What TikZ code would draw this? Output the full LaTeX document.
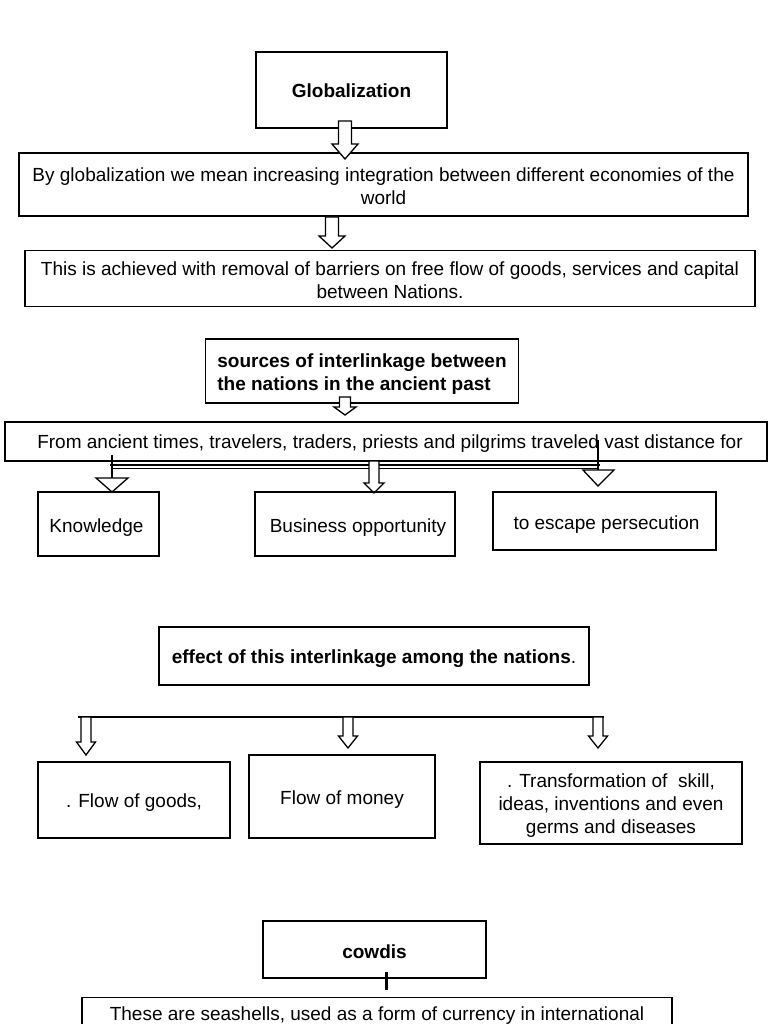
\documentclass[tikz,border=0pt]{standalone}
\usepackage{fontspec}
\setmainfont{Liberation Sans}
\newcommand\lowr[2][3]{\raisebox{0pt}[\dimexpr\height+#1pt*2\relax][\depth]{#2}}
\newcommand\lines[2][c]{\begin{tabular}{@{}#1@{}}#2\end{tabular}}
\begin{document}
\begin{tikzpicture}[x=1pt,y=-1pt,
  box/.style={draw,line width=1.3pt,inner sep=0pt,align=center,font=\fontsize{19}{23.2}\selectfont},
  boldbox/.style={box,font=\fontsize{19}{23.2}\selectfont\bfseries},
  barrowstyle/.style={draw,line width=1.3pt,fill=white,line join=miter}]
\newcommand\barrow[6]{\draw[barrowstyle] (#1-#4,#2) -- (#1+#4,#2) -- (#1+#4,#3-#6) -- (#1+#5,#3-#6) -- (#1,#3) -- (#1-#5,#3-#6) -- (#1-#4,#3-#6) -- cycle;}
\useasboundingbox (0,0) rectangle (768,1024);
\begin{scope}
\clip (0,0) rectangle (768,1024);
% top chain
\node[boldbox,minimum width=191,minimum height=76] (glob) at (351.5,90) {\lowr[1]{Globalization}};
\node[box,minimum width=729,minimum height=63] (mean) at (383.5,184.5) {\lowr[4]{\lines{By globalization we mean increasing integration between different economies of the\\world}}};
\node[box,minimum width=730,minimum height=56] (achv) at (390,278.5) {\lowr[4]{\lines{This is achieved with removal of barriers on free flow of goods, services and capital\\between Nations.}}};
\barrow{345}{121}{159}{6.5}{13}{15}
\barrow{332}{217}{248}{6.5}{13}{12}
% sources
\node[boldbox,minimum width=313,minimum height=64] (src) at (362,371) {\lowr[3]{\lines[l]{sources of interlinkage between\\the nations in the ancient past}}};
\node[box,minimum width=762,minimum height=39] (anc) at (386,441.5) {\lowr[2]{\hspace*{8pt}From ancient times, travelers, traders, priests and pilgrims traveled vast distance for}};
\barrow{345}{397}{415}{5.5}{11}{8}
% distribution lines
\draw[line width=1.2pt] (110,465) -- (600,465);
\draw[line width=1.2pt] (112,468.5) -- (598,468.5);
\draw[line width=1.3pt] (112,455) -- (112,478);
\draw[barrowstyle] (96,478) -- (128,478) -- (112,492) -- cycle;
\draw[line width=1.3pt] (598,440) -- (598,470);
\draw[barrowstyle] (583,470) -- (614,470) -- (598,486) -- cycle;
\barrow{374}{461}{493}{5}{10}{10}
\node[box,minimum width=121,minimum height=64] (know) at (98.5,524) {\lowr[4]{\hspace*{-4pt}Knowledge}};
\node[box,minimum width=200,minimum height=64] (bus) at (355,524) {\lowr[4]{\hspace*{6pt}Business opportunity}};
\node[box,minimum width=223,minimum height=58] (esc) at (604.5,521) {\lowr[4]{\hspace*{4pt}to escape persecution}};
% effect
\node[box,minimum width=430,minimum height=58] (eff) at (374,656) {\lowr[3]{\textbf{effect of this interlinkage among the nations}.}};
\draw[line width=2pt] (78,717) -- (604,717);
\barrow{86}{717}{755}{5}{9.5}{13}
\barrow{348}{717}{748}{5}{9.5}{12}
\barrow{598}{717}{748}{5}{9.5}{12}
\node[box,minimum width=192,minimum height=76] (goods) at (134,800) {\lowr[3]{. Flow of goods,}};
\node[box,minimum width=186,minimum height=83] (money) at (342,796.5) {\lowr[3]{Flow of money}};
\node[box,minimum width=262,minimum height=82] (trans) at (611,803) {\lowr[3]{\lines{. Transformation of\ \ skill,\\ideas, inventions and even\\germs and diseases}}};
% cowdis
\node[boldbox,minimum width=223,minimum height=57] (cow) at (374.5,949.5) {\lowr[2]{cowdis}};
\node[box,minimum width=590,minimum height=34,anchor=north] (sea) at (377,997) {\lowr[1]{These are seashells, used as a form of currency in international}};
\coordinate (cowtop) at (386,972);
\coordinate (seatop) at (386,990);
\draw[line width=3pt] (cowtop) -- (seatop);
\end{scope}
\end{tikzpicture}
\end{document}
